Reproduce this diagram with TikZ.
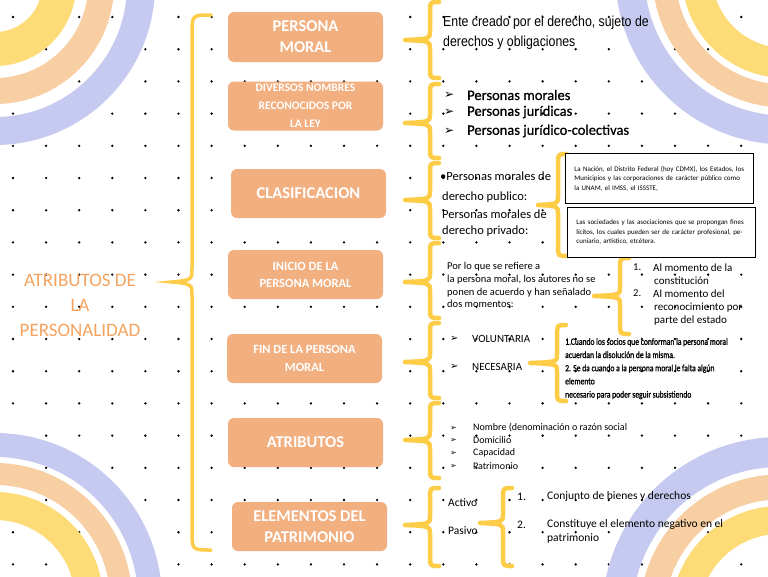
\documentclass[tikz,border=0pt]{standalone}
\usepackage{fontspec}
\setmainfont{Carlito}
\newfontfamily\narrowfont[FakeStretch=0.85]{Liberation Sans}
\newfontfamily\condfont[FakeStretch=0.8,FakeBold=1.2]{Carlito}
\newfontfamily\semifont[FakeBold=0.8]{Carlito}
\newfontfamily\symfont{DejaVu Sans}
\definecolor{pur}{HTML}{C7CAF0}
\definecolor{ora}{HTML}{F8CFA2}
\definecolor{yel}{HTML}{FDDC78}
\definecolor{boxc}{HTML}{F2AF80}
\definecolor{brc}{HTML}{FDCD48}
\definecolor{titc}{HTML}{F4A460}
\newcommand\mybrace[5]{\draw[br] (#1+9,#2) .. controls (#1,#2) .. (#1,#2+10) -- (#1,#5-9) .. controls (#1,#5-1) .. (#4,#5) .. controls (#1,#5+1) .. (#1,#5+9) -- (#1,#3-10) .. controls (#1,#3) .. (#1+9,#3);}
\tikzset{
  br/.style={draw=brc,line width=4.5pt,line cap=round,line join=round},
  bigbr/.style={draw=brc,line width=3.5pt,line cap=round},
  cat/.style={fill=boxc,rounded corners=6pt,text=white,align=center,inner sep=2pt},
  txt/.style={anchor=west,inner sep=0pt,text=black},
  smallbox/.style={draw=black,line width=0.8pt,fill=white,anchor=north west,inner sep=3pt,align=left,font=\fontsize{7}{9.5}\selectfont}
}
\begin{document}
\begin{tikzpicture}[x=1pt,y=-1pt]
\useasboundingbox (0,0) rectangle (768,576);
\fill[white] (0,0) rectangle (768,576);
% dot grid
\foreach \i in {0,...,22}{\foreach \j in {0,...,17}{\fill (13+33.1*\i,17+32.2*\j) circle (1.3pt);}}
% corner arcs
\begin{scope}
\clip (0,0) rectangle (768,576);
\draw[pur,line width=28pt] (-5,-15) circle (146);
\draw[ora,line width=26pt] (-5,-15) circle (106);
\draw[yel,line width=34pt] (-5,-15) circle (64);
\draw[pur,line width=29pt] (785,-25) circle (155);
\draw[ora,line width=23pt] (785,-25) circle (121);
\draw[yel,line width=30pt] (785,-25) circle (88);
\draw[pur,line width=24pt] (-5,600) circle (155);
\draw[ora,line width=22pt] (-5,600) circle (126);
\draw[yel,line width=28pt] (-5,600) circle (94);
\draw[pur,line width=30pt] (780,615) circle (163);
\draw[ora,line width=25pt] (780,615) circle (128);
\draw[yel,line width=28pt] (780,615) circle (95);
\end{scope}
% title
\node[text=titc,align=center,font=\fontsize{19}{25}\selectfont] (title) at (80,305) {ATRIBUTOS DE\\LA\\PERSONALIDAD};
% big brace
\draw[bigbr] (211,15) .. controls (192,15) .. (192,35) -- (192,268) .. controls (192,280) .. (172,282) .. controls (192,284) .. (192,296) -- (192,530) .. controls (192,550) .. (211,550);
% category boxes
\node[cat,minimum width=155pt,minimum height=50pt,font=\bfseries\fontsize{16.5}{21}\selectfont] (b1) at (305.5,37) {PERSONA\\MORAL};
\node[cat,minimum width=155pt,minimum height=49pt,font=\bfseries\fontsize{11.5}{18}\selectfont] (b2) at (305.5,106) {DIVERSOS NOMBRES\\RECONOCIDOS POR\\LA LEY};
\node[cat,minimum width=155pt,minimum height=49pt,font=\bfseries\fontsize{16.5}{19}\selectfont] (b3) at (308.5,193.5) {CLASIFICACION};
\node[cat,minimum width=155pt,minimum height=49pt,font=\bfseries\fontsize{12.5}{17}\selectfont] (b4) at (305.5,274.5) {INICIO DE LA\\PERSONA MORAL};
\node[cat,minimum width=155pt,minimum height=49pt,font=\bfseries\fontsize{12.5}{18}\selectfont] (b5) at (304.5,358.5) {FIN DE LA PERSONA\\MORAL};
\node[cat,minimum width=155pt,minimum height=49pt,font=\bfseries\fontsize{16.5}{19}\selectfont] (b6) at (305.5,442.5) {ATRIBUTOS};
\node[cat,minimum width=155pt,minimum height=49pt,font=\bfseries\fontsize{16.5}{21}\selectfont] (b7) at (309.5,526.5) {ELEMENTOS DEL\\PATRIMONIO};
% right braces
\mybrace{430}{2}{78}{405}{40}
\mybrace{430}{84}{158}{405}{123}
\mybrace{430}{163}{238}{405}{200}
\mybrace{430}{243}{318}{405}{282}
\mybrace{430}{323}{398}{405}{362}
\mybrace{430}{403}{478}{405}{440}
\mybrace{430}{488}{566}{405}{525}
% inner braces
\mybrace{558}{154}{256}{538}{205}
\mybrace{620}{258}{334}{594}{296}
\mybrace{557}{325}{401}{530}{363}
\mybrace{503}{488}{566}{480}{523}
% texts
\node[txt,font=\narrowfont\fontsize{14.5}{20}\selectfont,align=left,anchor=north west] (t1) at (443,16) {Ente creado por el derecho, sujeto de\\derechos y obligaciones};
\foreach \y/\t [count=\k] in {95/Personas morales,112/Personas jurídicas,131/Personas jurídico-colectivas}{
  \node[txt,font=\symfont\bfseries\fontsize{12}{12}\selectfont] (ar\k) at (444,\y) {➢};
  \node[txt,font=\semifont\fontsize{14.5}{16}\selectfont] (n\k) at (467,\y) {\t};}
\node[txt,font=\fontsize{12.5}{12}\selectfont] (c1) at (440,176) {•Personas morales de};
\node[txt,font=\fontsize{12.5}{12}\selectfont] (c2) at (442,197) {derecho publico:};
\node[txt,font=\fontsize{12.5}{12}\selectfont] (c3) at (442,214) {Personas morales de};
\node[txt,font=\fontsize{12.5}{12}\selectfont] (c4) at (442,231) {derecho privado:};
\node[smallbox,minimum width=188pt,minimum height=50pt,text width=170pt] (sbA) at (565,153) {La Nación, el Distrito Federal (hoy CDMX), los Estados, los Municipios y las corporaciones de carácter público como la UNAM, el IMSS, el ISSSTE,};
\node[smallbox,minimum width=188pt,minimum height=50pt,text width=170pt] (sbB) at (567,207) {Las sociedades y las asociaciones que se propongan fines lícitos, los cuales pueden ser de carácter profesional, pecuniario, artístico, etcétera.};
\node[txt,anchor=north west,font=\fontsize{10.5}{12.8}\selectfont,align=left] (in1) at (447,262) {Por lo que se refiere a\\la persona moral, los autores no se\\ponen de acuerdo y han señalado\\dos momentos:};
\node[txt,anchor=north west,font=\fontsize{10.5}{13}\selectfont,align=left] (in2) at (633,264) {1.\\\\2.};
\node[txt,anchor=north west,font=\fontsize{11}{13}\selectfont,align=left] (in3) at (653,264) {Al momento de la\\\hspace*{1pt}constitución\\Al momento del\\\hspace*{1pt}reconocimiento por\\\hspace*{1pt}parte del estado};
\node[txt,font=\symfont\bfseries\fontsize{10}{10}\selectfont] (fa1) at (450,339) {➢};
\node[txt,font=\fontsize{11}{12}\selectfont] (f1) at (472,339) {VOLUNTARIA};
\node[txt,font=\symfont\bfseries\fontsize{10}{10}\selectfont] (fa2) at (450,367) {➢};
\node[txt,font=\fontsize{11}{12}\selectfont] (f2) at (472,367) {NECESARIA};
\node[txt,anchor=north west,font=\condfont\fontsize{9.5}{13.2}\selectfont,align=left] (fn) at (565,338) {1.Cuando los socios que conforman la persona moral\\acuerdan la disolución de la misma.\\2. Se da cuando a la persona moral le falta algún\\elemento\\necesario para poder seguir subsistiendo};
\foreach \y/\t [count=\k] in {428/Nombre (denominación o razón social,440/Domicilio,453/Capacidad,466/Patrimonio}{
  \node[txt,font=\symfont\bfseries\fontsize{8}{9}\selectfont] (aa\k) at (450,\y) {➢};
  \node[txt,font=\fontsize{10}{11}\selectfont] (at\k) at (473,\y) {\t};}
\node[txt,font=\fontsize{11.5}{12}\selectfont] (act) at (448,503) {Activo};
\node[txt,font=\fontsize{11.5}{12}\selectfont] (pas) at (448,531) {Pasivo};
\node[txt,font=\fontsize{11.5}{12}\selectfont] (e1) at (517,497) {1.};
\node[txt,font=\fontsize{11.5}{12}\selectfont] (e2) at (517,525) {2.};
\node[txt,anchor=north west,font=\fontsize{11.5}{14.5}\selectfont,align=left] (e3) at (547,491) {Conjunto de bienes y derechos};
\node[txt,anchor=north west,font=\fontsize{11.5}{14.5}\selectfont,align=left] (e4) at (547,519) {Constituye el elemento negativo en el\\patrimonio};
\end{tikzpicture}
\end{document}
